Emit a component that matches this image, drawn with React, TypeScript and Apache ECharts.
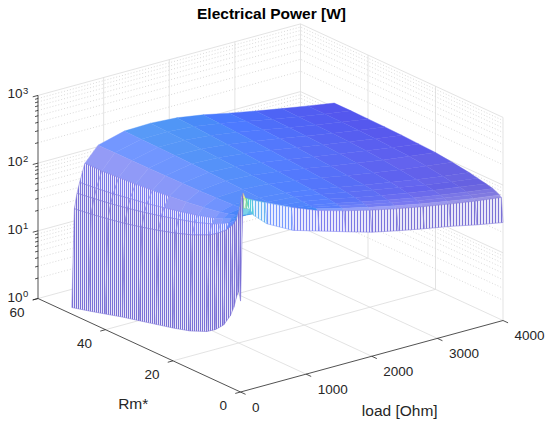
import React, { useEffect, useRef } from "react";
import * as echarts from "echarts";

// ---------------- data ----------------
const loadValues = [1, 40, 80, 120, 200, 400, 800, 1200, 1600, 2000, 2400, 2800, 3200, 3600, 4000];
const rmValues = [0, 0.5, 1, 2, 3, 5, 7.5, 10, 15, 20, 25, 30, 35, 40, 45, 50];

// electrical power [W] along load, one list per Rm* value
const powerRm0 = [22, 850, 650, 500, 360, 240, 150, 115, 88, 68, 56, 47, 40, 33, 28];
const powerRm0_5 = [30, 700, 680, 650, 590, 480, 320, 225, 175, 140, 115, 97, 83, 72, 64];
const powerRm1 = [26, 480, 470, 455, 420, 350, 280, 232, 185, 150, 124, 104, 89, 77, 68];
const powerRm2 = [16, 310, 330, 340, 335, 310, 265, 232, 193, 157, 130, 110, 94, 82, 72];
const powerRm3 = [11.5, 245, 280, 300, 305, 295, 262, 235, 198, 163, 136, 115, 99, 86, 76];
const powerRm5 = [7.5, 185, 230, 258, 278, 283, 262, 240, 205, 170, 143, 122, 105, 92, 80];
const powerRm7_5 = [5.6, 145, 195, 226, 255, 275, 265, 245, 212, 177, 150, 128, 110, 96, 85];
const powerRm10 = [4.6, 120, 170, 202, 238, 270, 268, 250, 218, 184, 156, 134, 116, 101, 90];
const powerRm15 = [3.6, 92, 138, 170, 214, 262, 275, 258, 228, 195, 166, 143, 124, 110, 98];
const powerRm20 = [3.05, 75, 117, 148, 196, 256, 282, 266, 237, 205, 176, 152, 132, 118, 105];
const powerRm25 = [2.65, 63, 100, 130, 183, 252, 289, 275, 247, 215, 185, 160, 139, 122, 108];
const powerRm30 = [2.3, 54, 87, 115, 172, 250, 295, 284, 257, 225, 194, 167, 145, 126, 111];
const powerRm35 = [2.0, 47, 77, 104, 163, 248, 300, 293, 268, 235, 202, 173, 149, 129, 113];
const powerRm40 = [1.7, 42, 69, 94, 156, 247, 304, 302, 279, 244, 208, 177, 151, 131, 114];
const powerRm45 = [1.45, 38, 63, 87, 150, 246, 307, 310, 290, 252, 213, 180, 153, 132, 115];
const powerRm50 = [1.25, 35, 58, 82, 150, 245, 310, 318, 300, 260, 216, 182, 155, 133, 115];

const powerRows = [
  powerRm0, powerRm0_5, powerRm1, powerRm2, powerRm3, powerRm5, powerRm7_5, powerRm10,
  powerRm15, powerRm20, powerRm25, powerRm30, powerRm35, powerRm40, powerRm45, powerRm50,
];

// axes
const loadTicks = [0, 1000, 2000, 3000, 4000];
const loadTickLabels = ["0", "1000", "2000", "3000", "4000"];
const rmTicks = [0, 20, 40, 60];
const rmTickLabels = ["0", "20", "40", "60"];
const powerTicks = [1, 10, 100, 1000];
const powerTickExponents = ["0", "1", "2", "3"];
const loadRange = [0, 4000];
const rmRange = [0, 60];
const powerRange = [1, 1000];

const titleText = "Electrical Power [W]";
const loadLabel = "load [Ohm]";
const rmLabel = "Rm*";

// ---------------- view (layout / style) ----------------
const ORIGIN = [240.5, 392];
const LOAD_PX = [(503 - 240.5) / 4000, (320.5 - 392) / 4000];
const RM_PX = [(38 - 240.5) / 60, (298.5 - 392) / 60];
const DECADE_PX = -67.7;
const FONT = "'Liberation Sans', Arial, Helvetica, sans-serif";
const AXIS_COLOR = "#262626";
// the original mesh is drawn much finer than the table above; these steps set the texture density
const MESH_STEP_LOAD = 40.4;
const MESH_STEP_RM = 0.5;
const MESH_LINE_PX = 0.9;

function project(L: number, R: number, P: number): number[] {
  const lz = Math.log10(P);
  return [
    ORIGIN[0] + LOAD_PX[0] * L + RM_PX[0] * R,
    ORIGIN[1] + LOAD_PX[1] * L + RM_PX[1] * R + DECADE_PX * lz,
  ];
}

// parula colour map stops
const PARULA_T = [0, 0.143, 0.286, 0.429, 0.571, 0.714, 0.857, 0.93, 1];
const PARULA = [
  [62, 38, 168],
  [71, 71, 235],
  [62, 111, 255],
  [39, 150, 235],
  [8, 181, 208],
  [49, 198, 159],
  [129, 204, 89],
  [220, 189, 41],
  [249, 251, 14],
];

function parula(t: number): number[] {
  const x = Math.max(0, Math.min(1, t));
  let i = 0;
  while (i < PARULA_T.length - 2 && x > PARULA_T[i + 1]) i++;
  const f = (x - PARULA_T[i]) / (PARULA_T[i + 1] - PARULA_T[i]);
  return [0, 1, 2].map((k) => PARULA[i][k] + (PARULA[i + 1][k] - PARULA[i][k]) * f);
}

function rgb(c: number[], white = 0): string {
  const w = Math.max(0, Math.min(1, white));
  const m = c.map((v) => Math.round(v * (1 - w) + 255 * w));
  return `rgb(${m[0]},${m[1]},${m[2]})`;
}

// fine vertical hatching that stands for the dense mesh lines of the original
function stripes(col: number[], period: number, bgWhite: number, lineWhite: number): any {
  if (typeof document === "undefined") return rgb(col, (bgWhite + lineWhite) / 2);
  const c = document.createElement("canvas");
  c.width = period;
  c.height = 4;
  const ctx = c.getContext("2d");
  if (!ctx) return rgb(col, (bgWhite + lineWhite) / 2);
  ctx.fillStyle = rgb(col, bgWhite);
  ctx.fillRect(0, 0, period, 4);
  ctx.fillStyle = rgb(col, lineWhite);
  ctx.fillRect(0, 0, 1, 4);
  return { type: "pattern", image: c, repeat: "repeat" };
}

// cells in back-to-front order: far Rm* rows first, far load columns first
function buildQuads() {
  const all = powerRows.flat();
  const pMin = Math.min(...all);
  const pMax = Math.max(...all);
  const quads: any[] = [];
  for (let i = rmValues.length - 2; i >= 0; i--) {
    for (let j = loadValues.length - 2; j >= 0; j--) {
      const corners = [
        [loadValues[j], rmValues[i], powerRows[i][j]],
        [loadValues[j + 1], rmValues[i], powerRows[i][j + 1]],
        [loadValues[j + 1], rmValues[i + 1], powerRows[i + 1][j + 1]],
        [loadValues[j], rmValues[i + 1], powerRows[i + 1][j]],
      ];
      const s = corners.map((c) => project(c[0], c[1], c[2]));
      const nL = Math.max(1, (loadValues[j + 1] - loadValues[j]) / MESH_STEP_LOAD);
      const nR = Math.max(1, (rmValues[i + 1] - rmValues[i]) / MESH_STEP_RM);
      const eL = [0, 1].map((k) => ((s[1][k] - s[0][k]) + (s[2][k] - s[3][k])) / 2 / nL);
      const eR = [0, 1].map((k) => ((s[3][k] - s[0][k]) + (s[2][k] - s[1][k])) / 2 / nR);
      const area = Math.abs(eL[0] * eR[1] - eL[1] * eR[0]) + 1e-6;
      const gapA = area / Math.hypot(eR[0], eR[1]); // spacing of the lines of constant load
      const gapB = area / Math.hypot(eL[0], eL[1]); // spacing of the lines of constant Rm*
      const small = Math.min(gapA, gapB);
      const large = Math.max(gapA, gapB);
      const t = (powerRows[i][j] - pMin) / (pMax - pMin);
      const col = parula(t);
      let fill: any;
      let stroke: string;
      let width = 0.5;
      if (small < 3.4 && large > 6) {
        const lineCol = parula(Math.max(t, 0.06));
        const period = Math.max(2, Math.min(3, Math.round(small)));
        const bg = 1 - Math.min(1, MESH_LINE_PX / large) * 0.9;
        fill = stripes(lineCol, period, Math.min(0.88, bg), 0.3);
        stroke = rgb(lineCol, 0.28);
      } else {
        const cover =
          1 - (1 - Math.min(1, MESH_LINE_PX / gapA)) * (1 - Math.min(1, MESH_LINE_PX / gapB));
        fill = rgb(col, 1 - cover * 0.96);
        stroke = fill;
        width = 0.4;
      }
      quads.push({ corners, fill, stroke, width });
    }
  }
  return quads;
}

function buildOption() {
  const quads = buildQuads();
  const decades: number[] = [];
  for (let k = 0; k < powerTicks.length - 1; k++) decades.push(powerTicks[k]);

  const line = (api: any, a: number[], b: number[], style: any) => {
    const p1 = api.coord(project(a[0], a[1], a[2]));
    const p2 = api.coord(project(b[0], b[1], b[2]));
    return { type: "line", silent: true, shape: { x1: p1[0], y1: p1[1], x2: p2[0], y2: p2[1] }, style };
  };
  const poly = (api: any, pts: number[][], style: any) => ({
    type: "polyline",
    silent: true,
    shape: { points: pts.map((q) => api.coord(project(q[0], q[1], q[2]))) },
    style: { fill: "none", ...style },
  });

  const Lmax = loadRange[1];
  const Rmax = rmRange[1];
  const Pmin = powerRange[0];
  const Pmax = powerRange[1];

  const boxRender = (_params: any, api: any) => {
    const children: any[] = [];
    const minorStyle = { stroke: "#c9c9c9", lineWidth: 0.7, lineDash: [1, 2] };
    const majorStyle = { stroke: "#dcdcdc", lineWidth: 0.8 };
    decades.forEach((d) => {
      for (let m = 2; m <= 9; m++) {
        const P = m * d;
        children.push(poly(api, [[0, Rmax, P], [Lmax, Rmax, P], [Lmax, 0, P]], minorStyle));
      }
    });
    powerTicks.slice(1).forEach((P) => {
      children.push(poly(api, [[0, Rmax, P], [Lmax, Rmax, P], [Lmax, 0, P]], majorStyle));
    });
    loadTicks.slice(1).forEach((L) => {
      children.push(line(api, [L, Rmax, Pmin], [L, Rmax, Pmax], majorStyle));
      children.push(line(api, [L, 0, Pmin], [L, Rmax, Pmin], majorStyle));
    });
    rmTicks.slice(0, -1).forEach((R) => {
      children.push(line(api, [Lmax, R, Pmin], [Lmax, R, Pmax], majorStyle));
    });
    rmTicks.slice(1).forEach((R) => {
      children.push(line(api, [0, R, Pmin], [Lmax, R, Pmin], majorStyle));
    });
    return { type: "group", children };
  };

  const surfaceRender = (_params: any, api: any) => ({
    type: "group",
    children: quads.map((q) => ({
      type: "polygon",
      silent: true,
      shape: { points: q.corners.map((c: number[]) => api.coord(project(c[0], c[1], c[2]))) },
      style: { fill: q.fill, stroke: q.stroke, lineWidth: q.width, lineJoin: "round" },
    })),
  });

  const axesRender = (_params: any, api: any) => {
    const children: any[] = [];
    const axisStyle = { stroke: AXIS_COLOR, lineWidth: 0.8 };
    const text = (x: number, y: number, s: string, size: number, align: string, vAlign = "middle") => ({
      type: "text",
      silent: true,
      style: { x, y, text: s, fill: AXIS_COLOR, fontSize: size, fontFamily: FONT, align, verticalAlign: vAlign },
    });
    // z axis
    children.push(line(api, [0, Rmax, Pmin], [0, Rmax, Pmax], axisStyle));
    decades.forEach((d) => {
      for (let m = 2; m <= 9; m++) {
        children.push(line(api, [0, Rmax, m * d], [-45, Rmax, m * d], axisStyle));
      }
    });
    powerTicks.forEach((P, i) => {
      children.push(line(api, [0, Rmax, P], [-80, Rmax, P], axisStyle));
      const p = api.coord(project(0, Rmax, P));
      children.push(text(p[0] - 15.5, p[1] - 1.5, "10", 13.5, "right"));
      children.push(text(p[0] - 15, p[1] - 5, powerTickExponents[i], 9.5, "left"));
    });
    // Rm axis
    children.push(line(api, [0, 0, Pmin], [0, Rmax, Pmin], axisStyle));
    rmTicks.forEach((R, i) => {
      children.push(line(api, [0, R, Pmin], [-80, R, Pmin], axisStyle));
      const p = api.coord(project(0, R, Pmin));
      children.push(text(p[0] - 13.5, p[1] + 13.6, rmTickLabels[i], 13.5, "right"));
    });
    // load axis
    children.push(line(api, [0, 0, Pmin], [Lmax, 0, Pmin], axisStyle));
    loadTicks.forEach((L, i) => {
      children.push(line(api, [L, 0, Pmin], [L, -1.5, Pmin], axisStyle));
      const p = api.coord(project(L, 0, Pmin));
      children.push(text(p[0] + 11.5, p[1] + 15.3, loadTickLabels[i], 13.5, "left"));
    });
    // axis titles
    const rmMid = api.coord(project(0, (rmRange[0] + rmRange[1]) / 2, Pmin));
    children.push(text(rmMid[0] - 6, rmMid[1] + 58, rmLabel, 15.5, "center"));
    const loadMid = api.coord(project((loadRange[0] + loadRange[1]) / 2, 0, Pmin));
    children.push(text(loadMid[0] + 28, loadMid[1] + 54, loadLabel, 15.5, "center"));
    return { type: "group", children };
  };

  return {
    animation: false,
    backgroundColor: "#ffffff",
    title: {
      text: titleText,
      left: 197,
      top: 5,
      padding: 0,
      textStyle: { fontSize: 15.5, fontWeight: "bold", fontFamily: FONT, color: "#000000" },
    },
    tooltip: { show: false },
    grid: { left: 0, right: 0, top: 0, bottom: 0 },
    xAxis: { type: "value", min: 0, max: 550, show: false },
    yAxis: { type: "value", min: 0, max: 424, inverse: true, show: false },
    series: [
      { type: "custom", z: 1, silent: true, data: [[0, 0]], renderItem: boxRender },
      { type: "custom", z: 2, silent: true, data: [[0, 0]], renderItem: surfaceRender },
      { type: "custom", z: 3, silent: true, data: [[0, 0]], renderItem: axesRender },
    ],
  };
}

export default function App() {
  const ref = useRef<HTMLDivElement>(null);
  useEffect(() => {
    if (!ref.current) return;
    document.body.style.margin = "0";
    const chart = echarts.init(ref.current, undefined, { renderer: "svg" });
    chart.setOption(buildOption() as any);
    return () => chart.dispose();
  }, []);
  return <div ref={ref} style={{ position: "relative", width: 550, height: 424, background: "#ffffff" }} />;
}
